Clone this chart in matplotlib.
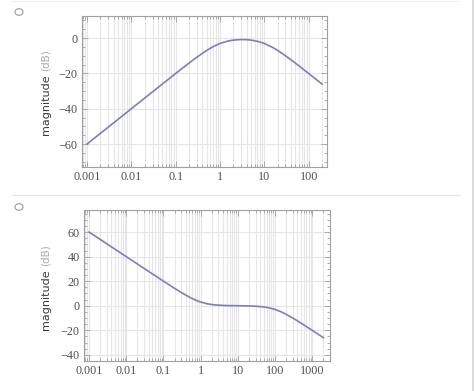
import matplotlib
matplotlib.use("Agg")
import matplotlib.pyplot as plt
from matplotlib.ticker import FixedLocator, LogLocator, MultipleLocator, NullFormatter
from matplotlib.patches import Circle
from matplotlib.lines import Line2D

# ---- data ----
freq_top = [0.001, 0.003, 0.01, 0.03, 0.1, 0.2, 0.3, 0.5, 0.7, 1, 1.5, 2, 3, 4, 5, 7,
            10, 15, 20, 30, 50, 100, 200]
mag_top = [-60.0, -50.46, -40.0, -30.47, -20.04, -14.15, -10.83, -7.0, -4.85, -3.05,
           -1.70, -1.14, -0.83, -0.90, -1.14, -1.82, -3.05, -5.14, -7.0, -10.01,
           -14.15, -20.04, -26.03]

freq_bot = [0.001, 0.003, 0.01, 0.03, 0.1, 0.2, 0.3, 0.5, 0.7, 1, 1.5, 2, 3, 5, 10, 20,
            30, 50, 70, 100, 150, 200, 300, 500, 1000, 2000]
mag_bot = [60.0, 50.46, 40.0, 30.47, 20.04, 14.15, 10.83, 7.0, 4.85, 3.01, 1.60, 0.97,
           0.45, 0.16, 0.0, -0.16, -0.37, -0.97, -1.73, -3.01, -5.12, -6.99, -10.0,
           -14.15, -20.04, -26.03]

xticks_top = [0.001, 0.01, 0.1, 1, 10, 100]
xlabels_top = ["0.001", "0.01", "0.1", "1", "10", "100"]
yticks_top = [0, -20, -40, -60]

xticks_bot = [0.001, 0.01, 0.1, 1, 10, 100, 1000]
xlabels_bot = ["0.001", "0.01", "0.1", "1", "10", "100", "1000"]
yticks_bot = [60, 40, 20, 0, -20, -40]

ylabel_main = "magnitude"
ylabel_unit = "(dB)"

LINE = "#7e7ebd"
FRAME = "#a0a0a0"
GRID = "#e6e6e6"
TXT = "#505050"
W, H = 474, 391

fig = plt.figure(figsize=(W / 100, H / 100), dpi=100)
fig.patch.set_facecolor("white")


def frac(x0, y0, x1, y1):
    return [x0 / W, 1 - y1 / H, (x1 - x0) / W, (y1 - y0) / H]


def style(ax, xt, xl, yt, xlim, ylim):
    ax.set_xscale("log")
    ax.set_xlim(*xlim)
    ax.set_ylim(*ylim)
    ax.xaxis.set_major_locator(FixedLocator(xt))
    ax.set_xticklabels(xl)
    ax.xaxis.set_minor_locator(LogLocator(base=10, subs=range(2, 10), numticks=50))
    ax.xaxis.set_minor_formatter(NullFormatter())
    ax.yaxis.set_major_locator(FixedLocator(yt))
    ax.set_yticklabels([("\u2212%d" % -v) if v < 0 else "%d" % v for v in yt])
    ax.yaxis.set_minor_locator(MultipleLocator(5))
    ax.grid(True, which="both", axis="x", color=GRID, lw=0.8, zorder=0)
    ax.grid(True, which="major", axis="y", color=GRID, lw=0.8, zorder=0)
    ax.set_axisbelow(True)
    for s in ax.spines.values():
        s.set_color(FRAME)
        s.set_linewidth(0.8)
    ax.tick_params(which="both", direction="in", top=True, right=True, color=FRAME,
                   labelcolor=TXT, width=0.6, pad=3)
    ax.tick_params(which="major", length=4)
    ax.tick_params(which="minor", length=2)
    for lab in ax.get_xticklabels() + ax.get_yticklabels():
        lab.set_family("Liberation Serif")
        lab.set_fontsize(8.7)


ax1 = fig.add_axes(frac(82, 16, 327, 167))
ax1.plot(freq_top, mag_top, color=LINE, lw=1.2, zorder=3)
style(ax1, xticks_top, xlabels_top, yticks_top, (0.00077, 259), (-73, 12.5))

ax2 = fig.add_axes(frac(84, 210, 330, 361))
ax2.plot(freq_bot, mag_bot, color=LINE, lw=1.2, zorder=3)
style(ax2, xticks_bot, xlabels_bot, yticks_bot, (0.00073, 3000), (-45, 78))

# y labels
for (ymag, yunit) in [(105, 60), (300, 255)]:
    fig.text(46 / W, 1 - ymag / H, ylabel_main, rotation=90, ha="center", va="center",
             fontsize=8, color="#3a3a3a", family="DejaVu Sans")
    fig.text(46 / W, 1 - yunit / H, ylabel_unit, rotation=90, ha="center", va="center",
             fontsize=7.5, color="#aaaaaa", family="DejaVu Sans")

# page decorations
for cy in (12, 207):
    fig.patches.append(Circle((19 / W, 1 - cy / H), 4 / W, transform=fig.transFigure,
                              fill=False, ec="#9a9a9a", lw=0.8))
fig.add_artist(Line2D([12 / W, 460 / W], [1 - 195 / H, 1 - 195 / H], color="#e6e6e6", lw=0.8))
fig.add_artist(Line2D([12 / W, 460 / W], [1 - 0.5 / H, 1 - 0.5 / H], color="#eeeeee", lw=0.8))
fig.add_artist(Line2D([472.5 / W, 472.5 / W], [0, 1], color="#d8d8d8", lw=2))

fig.savefig("out.png", dpi=100, facecolor="white")
